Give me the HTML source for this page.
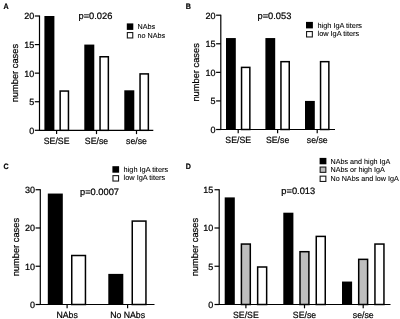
<!DOCTYPE html>
<html><head><meta charset="utf-8"><style>
html,body{margin:0;padding:0;background:#fff;}
svg{display:block;font-family:"Liberation Sans", sans-serif;text-rendering:geometricPrecision;}
text{-webkit-font-smoothing:antialiased;stroke:#000;stroke-width:0.22px;}
text.leg{stroke-width:0.08px;}
body{will-change:transform;}
</style></head><body>
<svg width="400" height="319" viewBox="0 0 400 319">
<rect width="400" height="319" fill="#fff"/>
<text x="0" y="0" font-size="7.9" font-weight="bold" transform="translate(3.40,9.20) scale(0.9,1)">A</text>
<line x1="39.50" y1="15.50" x2="39.50" y2="130.80" stroke="#000" stroke-width="1.2"/>
<line x1="34.80" y1="130.30" x2="39.50" y2="130.30" stroke="#000" stroke-width="1.2"/>
<text x="34.20" y="133.75" font-size="9" text-anchor="end" font-weight="normal" fill="#000">0</text>
<line x1="34.80" y1="101.73" x2="39.50" y2="101.73" stroke="#000" stroke-width="1.2"/>
<text x="34.20" y="105.18" font-size="9" text-anchor="end" font-weight="normal" fill="#000">5</text>
<line x1="34.80" y1="73.15" x2="39.50" y2="73.15" stroke="#000" stroke-width="1.2"/>
<text x="34.20" y="76.60" font-size="9" text-anchor="end" font-weight="normal" fill="#000">10</text>
<line x1="34.80" y1="44.58" x2="39.50" y2="44.58" stroke="#000" stroke-width="1.2"/>
<text x="34.20" y="48.03" font-size="9" text-anchor="end" font-weight="normal" fill="#000">15</text>
<line x1="34.80" y1="16.00" x2="39.50" y2="16.00" stroke="#000" stroke-width="1.2"/>
<text x="34.20" y="19.45" font-size="9" text-anchor="end" font-weight="normal" fill="#000">20</text>
<line x1="39.00" y1="130.30" x2="153.30" y2="130.30" stroke="#000" stroke-width="1.2"/>
<line x1="56.60" y1="130.30" x2="56.60" y2="134.10" stroke="#000" stroke-width="1.2"/>
<text x="0" y="0" font-size="9" text-anchor="middle" transform="translate(56.60,143.80) scale(0.97,1)">SE/SE</text>
<rect x="44.40" y="16.00" width="10.00" height="114.30" fill="#000"/>
<rect x="60.15" y="91.05" width="8.30" height="39.25" fill="#fff" stroke="#000" stroke-width="1.5"/>
<line x1="96.50" y1="130.30" x2="96.50" y2="134.10" stroke="#000" stroke-width="1.2"/>
<text x="0" y="0" font-size="9" text-anchor="middle" transform="translate(96.50,143.80) scale(0.97,1)">SE/se</text>
<rect x="84.30" y="44.58" width="10.00" height="85.72" fill="#000"/>
<rect x="100.05" y="56.76" width="8.30" height="73.55" fill="#fff" stroke="#000" stroke-width="1.5"/>
<line x1="136.50" y1="130.30" x2="136.50" y2="134.10" stroke="#000" stroke-width="1.2"/>
<text x="0" y="0" font-size="9" text-anchor="middle" transform="translate(136.50,143.80) scale(0.97,1)">se/se</text>
<rect x="124.30" y="90.30" width="10.00" height="40.00" fill="#000"/>
<rect x="140.05" y="73.90" width="8.30" height="56.40" fill="#fff" stroke="#000" stroke-width="1.5"/>
<text x="0" y="0" font-size="9.3" text-anchor="middle" transform="translate(17.60,73.15) rotate(-90)">number cases</text>
<text x="78.50" y="18.80" font-size="9.3" text-anchor="start" font-weight="normal" fill="#000">p=0.026</text>
<rect x="126.80" y="23.40" width="6.50" height="6.50" fill="#000"/>
<text x="137.50" y="29.30" font-size="7.2" text-anchor="start" font-weight="normal" fill="#000" class="leg">NAbs</text>
<rect x="127.35" y="32.55" width="5.40" height="5.40" fill="#fff" stroke="#1a1a1a" stroke-width="1.1"/>
<text x="137.50" y="37.60" font-size="7.2" text-anchor="start" font-weight="normal" fill="#000" class="leg">no NAbs</text>
<text x="0" y="0" font-size="7.9" font-weight="bold" transform="translate(185.80,9.20) scale(0.9,1)">B</text>
<line x1="220.80" y1="14.70" x2="220.80" y2="130.00" stroke="#000" stroke-width="1.2"/>
<line x1="216.10" y1="129.50" x2="220.80" y2="129.50" stroke="#000" stroke-width="1.2"/>
<text x="215.50" y="132.95" font-size="9" text-anchor="end" font-weight="normal" fill="#000">0</text>
<line x1="216.10" y1="100.92" x2="220.80" y2="100.92" stroke="#000" stroke-width="1.2"/>
<text x="215.50" y="104.38" font-size="9" text-anchor="end" font-weight="normal" fill="#000">5</text>
<line x1="216.10" y1="72.35" x2="220.80" y2="72.35" stroke="#000" stroke-width="1.2"/>
<text x="215.50" y="75.80" font-size="9" text-anchor="end" font-weight="normal" fill="#000">10</text>
<line x1="216.10" y1="43.78" x2="220.80" y2="43.78" stroke="#000" stroke-width="1.2"/>
<text x="215.50" y="47.23" font-size="9" text-anchor="end" font-weight="normal" fill="#000">15</text>
<line x1="216.10" y1="15.20" x2="220.80" y2="15.20" stroke="#000" stroke-width="1.2"/>
<text x="215.50" y="18.65" font-size="9" text-anchor="end" font-weight="normal" fill="#000">20</text>
<line x1="220.30" y1="129.50" x2="335.00" y2="129.50" stroke="#000" stroke-width="1.2"/>
<line x1="238.20" y1="129.50" x2="238.20" y2="133.30" stroke="#000" stroke-width="1.2"/>
<text x="0" y="0" font-size="9" text-anchor="middle" transform="translate(238.20,143.00) scale(0.97,1)">SE/SE</text>
<rect x="226.00" y="38.06" width="9.80" height="91.44" fill="#000"/>
<rect x="241.55" y="67.39" width="8.30" height="62.11" fill="#fff" stroke="#000" stroke-width="1.5"/>
<line x1="277.60" y1="129.50" x2="277.60" y2="133.30" stroke="#000" stroke-width="1.2"/>
<text x="0" y="0" font-size="9" text-anchor="middle" transform="translate(277.60,143.00) scale(0.97,1)">SE/se</text>
<rect x="265.40" y="38.06" width="9.80" height="91.44" fill="#000"/>
<rect x="280.95" y="61.67" width="8.30" height="67.83" fill="#fff" stroke="#000" stroke-width="1.5"/>
<line x1="317.20" y1="129.50" x2="317.20" y2="133.30" stroke="#000" stroke-width="1.2"/>
<text x="0" y="0" font-size="9" text-anchor="middle" transform="translate(317.20,143.00) scale(0.97,1)">se/se</text>
<rect x="305.00" y="100.92" width="9.80" height="28.57" fill="#000"/>
<rect x="320.55" y="61.67" width="8.30" height="67.83" fill="#fff" stroke="#000" stroke-width="1.5"/>
<text x="0" y="0" font-size="9.3" text-anchor="middle" transform="translate(199.20,72.35) rotate(-90)">number cases</text>
<text x="257.50" y="18.60" font-size="9.3" text-anchor="start" font-weight="normal" fill="#000">p=0.053</text>
<rect x="306.00" y="21.90" width="6.90" height="6.50" fill="#000"/>
<text x="317.50" y="28.30" font-size="7.35" text-anchor="start" font-weight="normal" fill="#000" class="leg">high IgA titers</text>
<rect x="306.55" y="31.55" width="5.80" height="5.40" fill="#fff" stroke="#1a1a1a" stroke-width="1.1"/>
<text x="317.50" y="36.00" font-size="7.35" text-anchor="start" font-weight="normal" fill="#000" class="leg">low IgA titers</text>
<text x="0" y="0" font-size="7.9" font-weight="bold" transform="translate(3.40,169.20) scale(0.9,1)">C</text>
<line x1="40.30" y1="189.22" x2="40.30" y2="305.00" stroke="#000" stroke-width="1.2"/>
<line x1="35.60" y1="304.50" x2="40.30" y2="304.50" stroke="#000" stroke-width="1.2"/>
<text x="35.00" y="307.95" font-size="9" text-anchor="end" font-weight="normal" fill="#000">0</text>
<line x1="35.60" y1="266.24" x2="40.30" y2="266.24" stroke="#000" stroke-width="1.2"/>
<text x="35.00" y="269.69" font-size="9" text-anchor="end" font-weight="normal" fill="#000">10</text>
<line x1="35.60" y1="227.98" x2="40.30" y2="227.98" stroke="#000" stroke-width="1.2"/>
<text x="35.00" y="231.43" font-size="9" text-anchor="end" font-weight="normal" fill="#000">20</text>
<line x1="35.60" y1="189.72" x2="40.30" y2="189.72" stroke="#000" stroke-width="1.2"/>
<text x="35.00" y="193.17" font-size="9" text-anchor="end" font-weight="normal" fill="#000">30</text>
<line x1="39.80" y1="304.50" x2="154.50" y2="304.50" stroke="#000" stroke-width="1.2"/>
<line x1="67.10" y1="304.50" x2="67.10" y2="308.30" stroke="#000" stroke-width="1.2"/>
<text x="0" y="0" font-size="9" text-anchor="middle" transform="translate(67.10,318.00) scale(0.97,1)">NAbs</text>
<rect x="47.80" y="193.55" width="15.00" height="110.95" fill="#000"/>
<rect x="71.75" y="255.51" width="13.70" height="48.99" fill="#fff" stroke="#000" stroke-width="1.5"/>
<line x1="127.60" y1="304.50" x2="127.60" y2="308.30" stroke="#000" stroke-width="1.2"/>
<text x="0" y="0" font-size="9" text-anchor="middle" transform="translate(127.60,318.00) scale(0.97,1)">No NAbs</text>
<rect x="108.30" y="273.89" width="15.00" height="30.61" fill="#000"/>
<rect x="132.25" y="221.08" width="13.70" height="83.42" fill="#fff" stroke="#000" stroke-width="1.5"/>
<text x="0" y="0" font-size="9.3" text-anchor="middle" transform="translate(18.80,247.11) rotate(-90)">number cases</text>
<text x="80.00" y="194.80" font-size="9.3" text-anchor="start" font-weight="normal" fill="#000">p=0.0007</text>
<rect x="112.40" y="166.20" width="6.70" height="6.50" fill="#000"/>
<text x="123.60" y="172.20" font-size="7.35" text-anchor="start" font-weight="normal" fill="#000" class="leg">high IgA titers</text>
<rect x="112.95" y="175.65" width="5.60" height="5.40" fill="#fff" stroke="#1a1a1a" stroke-width="1.1"/>
<text x="123.60" y="180.20" font-size="7.35" text-anchor="start" font-weight="normal" fill="#000" class="leg">low IgA titers</text>
<text x="0" y="0" font-size="7.9" font-weight="bold" transform="translate(185.80,169.20) scale(0.9,1)">D</text>
<line x1="219.20" y1="189.25" x2="219.20" y2="305.00" stroke="#000" stroke-width="1.2"/>
<line x1="214.50" y1="304.50" x2="219.20" y2="304.50" stroke="#000" stroke-width="1.2"/>
<text x="213.30" y="307.95" font-size="9" text-anchor="end" font-weight="normal" fill="#000">0</text>
<line x1="214.50" y1="266.25" x2="219.20" y2="266.25" stroke="#000" stroke-width="1.2"/>
<text x="213.30" y="269.70" font-size="9" text-anchor="end" font-weight="normal" fill="#000">5</text>
<line x1="214.50" y1="228.00" x2="219.20" y2="228.00" stroke="#000" stroke-width="1.2"/>
<text x="213.30" y="231.45" font-size="9" text-anchor="end" font-weight="normal" fill="#000">10</text>
<line x1="214.50" y1="189.75" x2="219.20" y2="189.75" stroke="#000" stroke-width="1.2"/>
<text x="213.30" y="193.20" font-size="9" text-anchor="end" font-weight="normal" fill="#000">15</text>
<line x1="218.70" y1="304.50" x2="390.50" y2="304.50" stroke="#000" stroke-width="1.2"/>
<line x1="245.90" y1="304.50" x2="245.90" y2="308.30" stroke="#000" stroke-width="1.2"/>
<text x="0" y="0" font-size="9" text-anchor="middle" transform="translate(245.90,318.00) scale(0.97,1)">SE/SE</text>
<rect x="224.70" y="197.40" width="10.10" height="107.10" fill="#000"/>
<rect x="241.40" y="244.05" width="8.90" height="60.45" fill="#bebebe" stroke="#000" stroke-width="1.5"/>
<rect x="257.65" y="267.00" width="9.00" height="37.50" fill="#fff" stroke="#000" stroke-width="1.5"/>
<line x1="304.50" y1="304.50" x2="304.50" y2="308.30" stroke="#000" stroke-width="1.2"/>
<text x="0" y="0" font-size="9" text-anchor="middle" transform="translate(304.50,318.00) scale(0.97,1)">SE/se</text>
<rect x="283.30" y="212.70" width="10.10" height="91.80" fill="#000"/>
<rect x="300.00" y="251.70" width="8.90" height="52.80" fill="#bebebe" stroke="#000" stroke-width="1.5"/>
<rect x="316.25" y="236.40" width="9.00" height="68.10" fill="#fff" stroke="#000" stroke-width="1.5"/>
<line x1="363.20" y1="304.50" x2="363.20" y2="308.30" stroke="#000" stroke-width="1.2"/>
<text x="0" y="0" font-size="9" text-anchor="middle" transform="translate(363.20,318.00) scale(0.97,1)">se/se</text>
<rect x="342.00" y="281.55" width="10.10" height="22.95" fill="#000"/>
<rect x="358.70" y="259.35" width="8.90" height="45.15" fill="#bebebe" stroke="#000" stroke-width="1.5"/>
<rect x="374.95" y="244.05" width="9.00" height="60.45" fill="#fff" stroke="#000" stroke-width="1.5"/>
<text x="0" y="0" font-size="9.3" text-anchor="middle" transform="translate(197.90,247.12) rotate(-90)">number cases</text>
<text x="281.30" y="193.80" font-size="9.3" text-anchor="start" font-weight="normal" fill="#000">p=0.013</text>
<rect x="319.60" y="157.90" width="6.80" height="6.40" fill="#000"/>
<text class="leg" x="0" y="0" font-size="7.35" transform="translate(330.50,163.50) scale(0.978,1)">NAbs and high IgA</text>
<rect x="320.15" y="167.05" width="5.70" height="5.30" fill="#bebebe" stroke="#1a1a1a" stroke-width="1.1"/>
<text class="leg" x="0" y="0" font-size="7.35" transform="translate(330.50,171.70) scale(0.978,1)">NAbs or high IgA</text>
<rect x="320.15" y="176.15" width="5.70" height="5.30" fill="#fff" stroke="#1a1a1a" stroke-width="1.1"/>
<text class="leg" x="0" y="0" font-size="7.35" transform="translate(330.50,181.10) scale(0.978,1)">No NAbs and low IgA</text>
</svg>
</body></html>
